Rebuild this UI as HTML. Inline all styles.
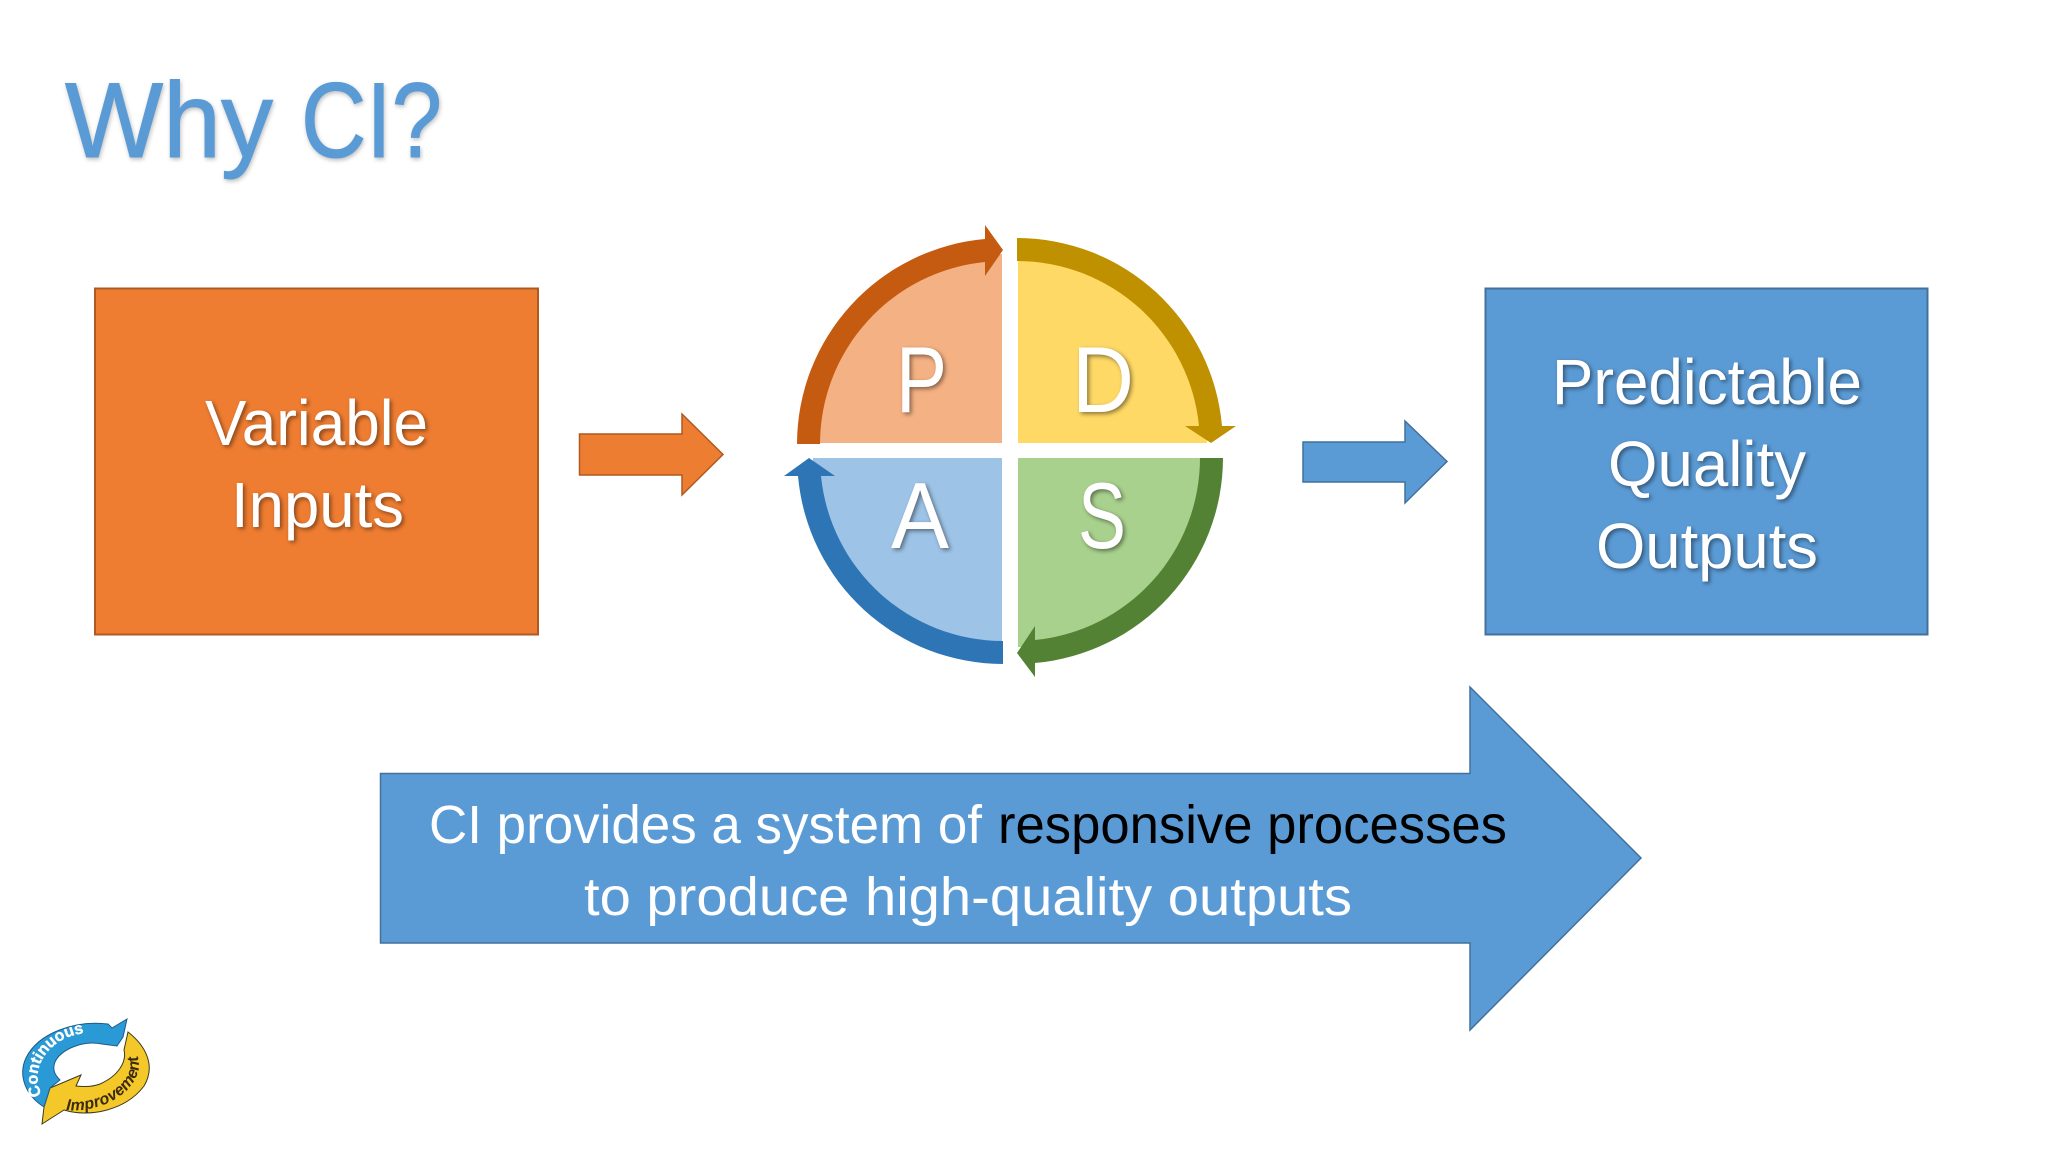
<!DOCTYPE html>
<html><head><meta charset="utf-8"><style>
html,body{margin:0;padding:0;background:#fff;width:2048px;height:1152px;overflow:hidden}
svg{display:block}
text{font-family:"Liberation Sans",sans-serif}
.w{fill:#fff;filter:drop-shadow(2px 2px 2px rgba(0,0,0,.45))}
</style></head><body>
<svg width="2048" height="1152" viewBox="0 0 2048 1152" xmlns="http://www.w3.org/2000/svg">
<rect width="2048" height="1152" fill="#fff"/>
<g font-size="107" fill="#5B9BD5" stroke="#5B9BD5" stroke-width="1" style="filter:drop-shadow(1px 2px 2px rgba(0,0,0,.25))">
<text x="65" y="157" textLength="208" lengthAdjust="spacingAndGlyphs">Why</text>
<text x="301" y="157" textLength="141" lengthAdjust="spacingAndGlyphs">CI?</text>
</g>

<rect x="95" y="288.500" width="443" height="346" fill="#EF7D31" stroke="#AE5A21" stroke-width="2"/>
<text class="w" x="205" y="445" font-size="64" textLength="223" lengthAdjust="spacingAndGlyphs">Variable</text>
<text class="w" x="231" y="527" font-size="64" textLength="173" lengthAdjust="spacingAndGlyphs">Inputs</text>
<polygon points="579.500,434 682,434 682,414 723,454.500 682,495 682,475 579.500,475" fill="#ED7D31" stroke="#AE5A21" stroke-width="1.500"/>

<path d="M1002,443 L813,443 A190,190 0 0 1 1002,254 Z" fill="#F4B183"/>
<path d="M1018,443 L1018,254 A190,190 0 0 1 1207,443 Z" fill="#FFD966"/>
<path d="M1018,458 L1207,458 A190,190 0 0 1 1018,647 Z" fill="#A9D18E"/>
<path d="M1002,458 L1002,647 A190,190 0 0 1 813,458 Z" fill="#9DC3E6"/>
<path d="M797,444 A206,206 0 0 1 985,239 L985,225 L1003,250 L985,276 L985,262 A183,183 0 0 0 820,444 Z" fill="#C55A11"/>
<path d="M1017,238 A206,206 0 0 1 1222,426 L1236,426 L1211,443 L1185,426 L1199,426 A183,183 0 0 0 1017,261 Z" fill="#BF9000"/>
<path d="M1223,458 A206,206 0 0 1 1035,663 L1035,677 L1017,653 L1035,626 L1035,640 A183,183 0 0 0 1200,458 Z" fill="#548235"/>
<path d="M1003,664 A206,206 0 0 1 798,476 L784,476 L809,458 L835,476 L821,476 A183,183 0 0 0 1003,641 Z" fill="#2E75B6"/>
<text class="w" x="896" y="412" font-size="94" textLength="51" lengthAdjust="spacingAndGlyphs">P</text>
<text class="w" x="1072" y="412" font-size="94" textLength="62" lengthAdjust="spacingAndGlyphs">D</text>
<text class="w" x="891" y="548" font-size="94" textLength="58" lengthAdjust="spacingAndGlyphs">A</text>
<text class="w" x="1078" y="548" font-size="94" textLength="48" lengthAdjust="spacingAndGlyphs">S</text>

<polygon points="1303,442 1405,442 1405,421 1447,461.500 1405,503 1405,482 1303,482" fill="#5B9BD5" stroke="#41719C" stroke-width="1.500"/>
<rect x="1485.500" y="288.500" width="442" height="346" fill="#5B9BD5" stroke="#41719C" stroke-width="2"/>
<text class="w" x="1552" y="404" font-size="64" textLength="310" lengthAdjust="spacingAndGlyphs">Predictable</text>
<text class="w" x="1608" y="486" font-size="64" textLength="198" lengthAdjust="spacingAndGlyphs">Quality</text>
<text class="w" x="1596" y="568" font-size="64" textLength="222" lengthAdjust="spacingAndGlyphs">Outputs</text>

<polygon points="380.500,773.500 1470,773.500 1470,687 1641,858 1470,1030 1470,943 380.500,943" fill="#5B9BD5" stroke="#41719C" stroke-width="1.500"/>
<text x="429" y="843" font-size="54" fill="#fff" textLength="553" lengthAdjust="spacingAndGlyphs">CI provides a system of</text>
<text x="998" y="843" font-size="54" fill="#000" textLength="509" lengthAdjust="spacingAndGlyphs">responsive processes</text>
<text x="584" y="915" font-size="54" fill="#fff" textLength="768" lengthAdjust="spacingAndGlyphs">to produce high-quality outputs</text>

<g transform="translate(0,1000)">
<path d="M42,124 L64,110 C90,118 126,110 144,86 C156,66 146,46 128,32 L124,50 C127,62 118,76 100,84 C92,87 84,87 76,86 L81,75 L50,88 L44,107 Z" fill="#F5C82A" stroke="#3a3a20" stroke-width="1"/>
<path d="M44,107 C25,95 18,75 26,58 C38,33 75,20 108,24 L112,28 L127,19 L123,37 L117,46 L102,44 C82,40 60,50 55,62 C52,70 55,75 60,80 L50,88 Z" fill="#2A9AD6" stroke="#1c5a8a" stroke-width="1"/>
<defs>
<path id="c1" d="M42,95 C30,72 44,50 62,40 C78,32 92,31 112,35"/>
<path id="c2" d="M66,110 C96,113 130,98 138,72 C141,60 136,48 128,40"/>
</defs>
<text font-size="16" font-weight="bold" fill="#fff" stroke="#fff" stroke-width=".4"><textPath href="#c1" textLength="88">Continuous</textPath></text>
<text font-size="16" font-weight="bold" font-style="italic" fill="#3a2a10"><textPath href="#c2" textLength="104">Improvement</textPath></text>
</g>
</svg>
</body></html>
